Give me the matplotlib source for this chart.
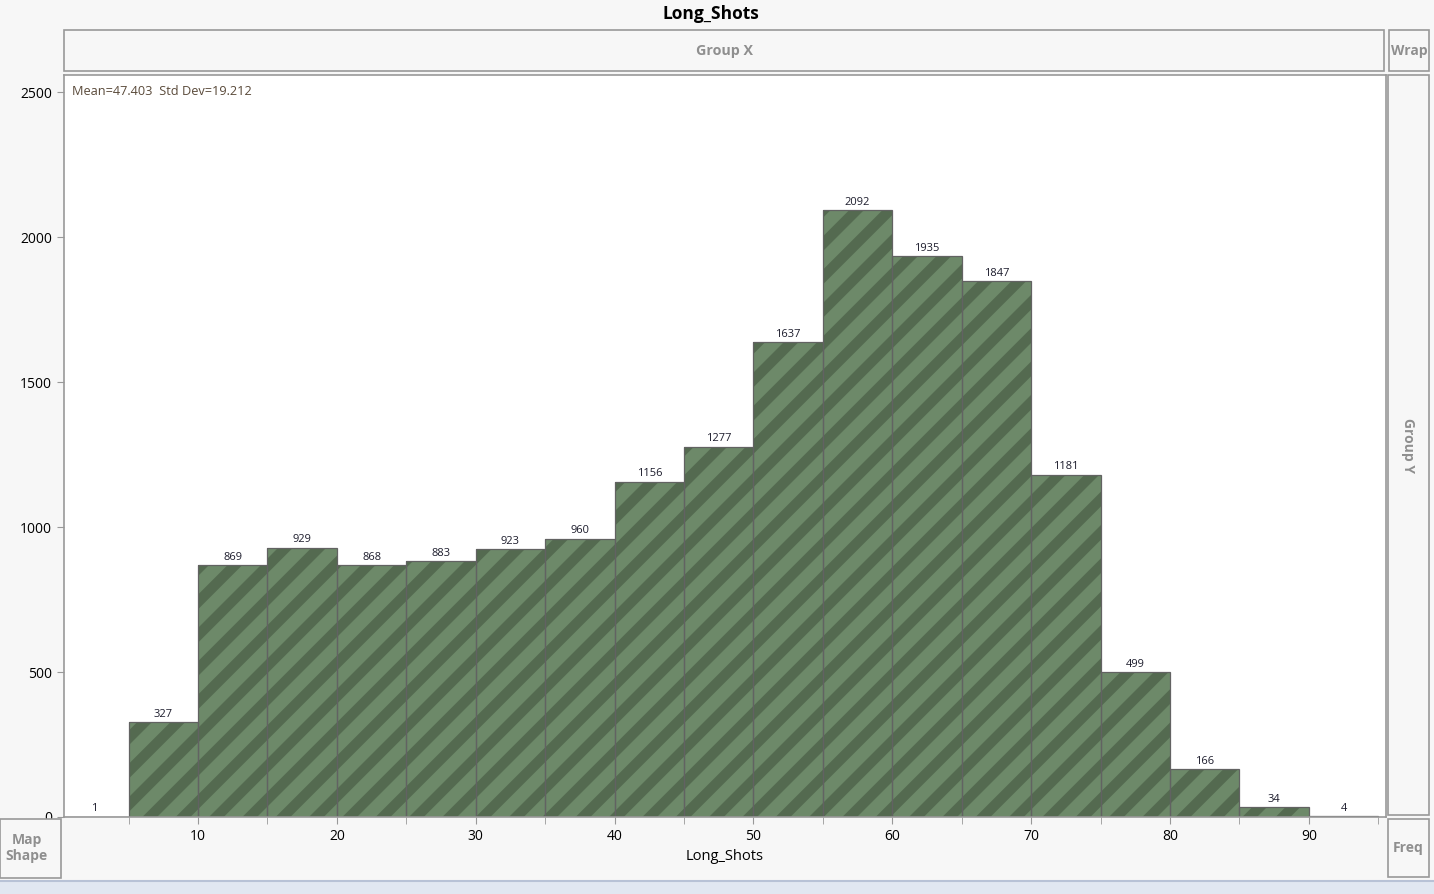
import matplotlib
matplotlib.use('Agg')
from matplotlib import pyplot as plt
from matplotlib.patches import Rectangle

plt.rcParams['font.family'] = ['Open Sans', 'DejaVu Sans']
plt.rcParams['hatch.linewidth'] = 7.5

# histogram of Long_Shots, bins of width 5
bin_left = [0, 5, 10, 15, 20, 25, 30, 35, 40, 45, 50, 55, 60, 65, 70, 75, 80, 85, 90]
counts = [1, 327, 869, 929, 868, 883, 923, 960, 1156, 1277, 1637, 2092, 1935, 1847, 1181, 499, 166, 34, 4]
bin_width = 5
x_ticks = [10, 20, 30, 40, 50, 60, 70, 80, 90]
y_ticks = [0, 500, 1000, 1500, 2000, 2500]
stats_text = 'Mean=47.403  Std Dev=19.212'

W, H = 1434, 894
fig = plt.figure(figsize=(W / 100, H / 100), dpi=100, facecolor='#f7f7f7')


def px_box(x0, y0, x1, y1, face='#f7f7f7', edge='#999999'):
    # pixel coords with origin at top-left
    r = Rectangle((x0 / W, 1 - y1 / H), (x1 - x0) / W, (y1 - y0) / H,
                  transform=fig.transFigure, facecolor=face, edgecolor=edge,
                  linewidth=1.2, zorder=0)
    fig.patches.append(r)


def px_text(x, y, s, **kw):
    fig.text(x / W, 1 - y / H, s, ha='center', va='center', **kw)


# frame boxes of the graph builder
px_box(64, 30, 1384, 71)
px_box(1389, 30, 1429, 71)
px_box(1388, 75, 1429, 815)
px_box(0, 819, 61, 878)
px_box(1388, 819, 1429, 877)
fig.patches.append(Rectangle((0, 0), 1, 13 / H, transform=fig.transFigure,
                             facecolor='#e1e7f1', edgecolor='none', zorder=0))
fig.lines.append(plt.Line2D([0, 1], [13 / H, 13 / H], transform=fig.transFigure,
                            color='#b8c2d6', linewidth=1.5))

grey = '#8f8f8f'
px_text(711, 14, 'Long_Shots', fontsize=12.5, fontweight='bold', color='black')
px_text(724, 51, 'Group X', fontsize=10.3, fontweight='bold', color=grey)
px_text(1409, 51, 'Wrap', fontsize=10, fontweight='bold', color=grey)
px_text(1408, 446, 'Group Y', fontsize=10, fontweight='bold', color=grey, rotation=-90)
px_text(27, 848, 'Map\nShape', fontsize=10, fontweight='bold', color=grey, linespacing=1.15)
px_text(1408, 848, 'Freq', fontsize=10, fontweight='bold', color=grey)

ax = fig.add_axes([64 / W, 1 - 817 / H, (1386 - 64) / W, (817 - 75) / H])
ax.set_facecolor('white')

# striped fill, then thin grey outlines on top
ax.bar(bin_left, counts, width=bin_width, align='edge', color='#6d8969',
       edgecolor='#546a50', linewidth=0, hatch='/')
ax.bar(bin_left, counts, width=bin_width, align='edge', fill=False,
       edgecolor='#626262', linewidth=0.9)

for xl, c in zip(bin_left, counts):
    ax.text(xl + bin_width / 2, c + 8, str(c), ha='center', va='bottom',
            fontsize=8, color='#1c1c2c')

ax.set_xlim(0.35, 95.55)
ax.set_ylim(0, 2559)
ax.set_xticks(x_ticks)
ax.set_xticks([5 + 10 * i for i in range(10)], minor=True)
ax.set_yticks(y_ticks)
ax.tick_params(axis='both', colors='#999999', labelcolor='black', labelsize=10, length=5)
ax.tick_params(axis='x', which='minor', length=5, colors='#999999')
ax.tick_params(axis='x', pad=4)
for s in ax.spines.values():
    s.set_color('#999999')
    s.set_linewidth(1.2)

ax.set_xlabel('Long_Shots', fontsize=10.5, labelpad=3)
ax.text(0.006, 0.978, stats_text, transform=ax.transAxes, ha='left', va='center',
        fontsize=9.2, color='#5a4a3a')

fig.savefig('out.png', dpi=100, facecolor=fig.get_facecolor())
